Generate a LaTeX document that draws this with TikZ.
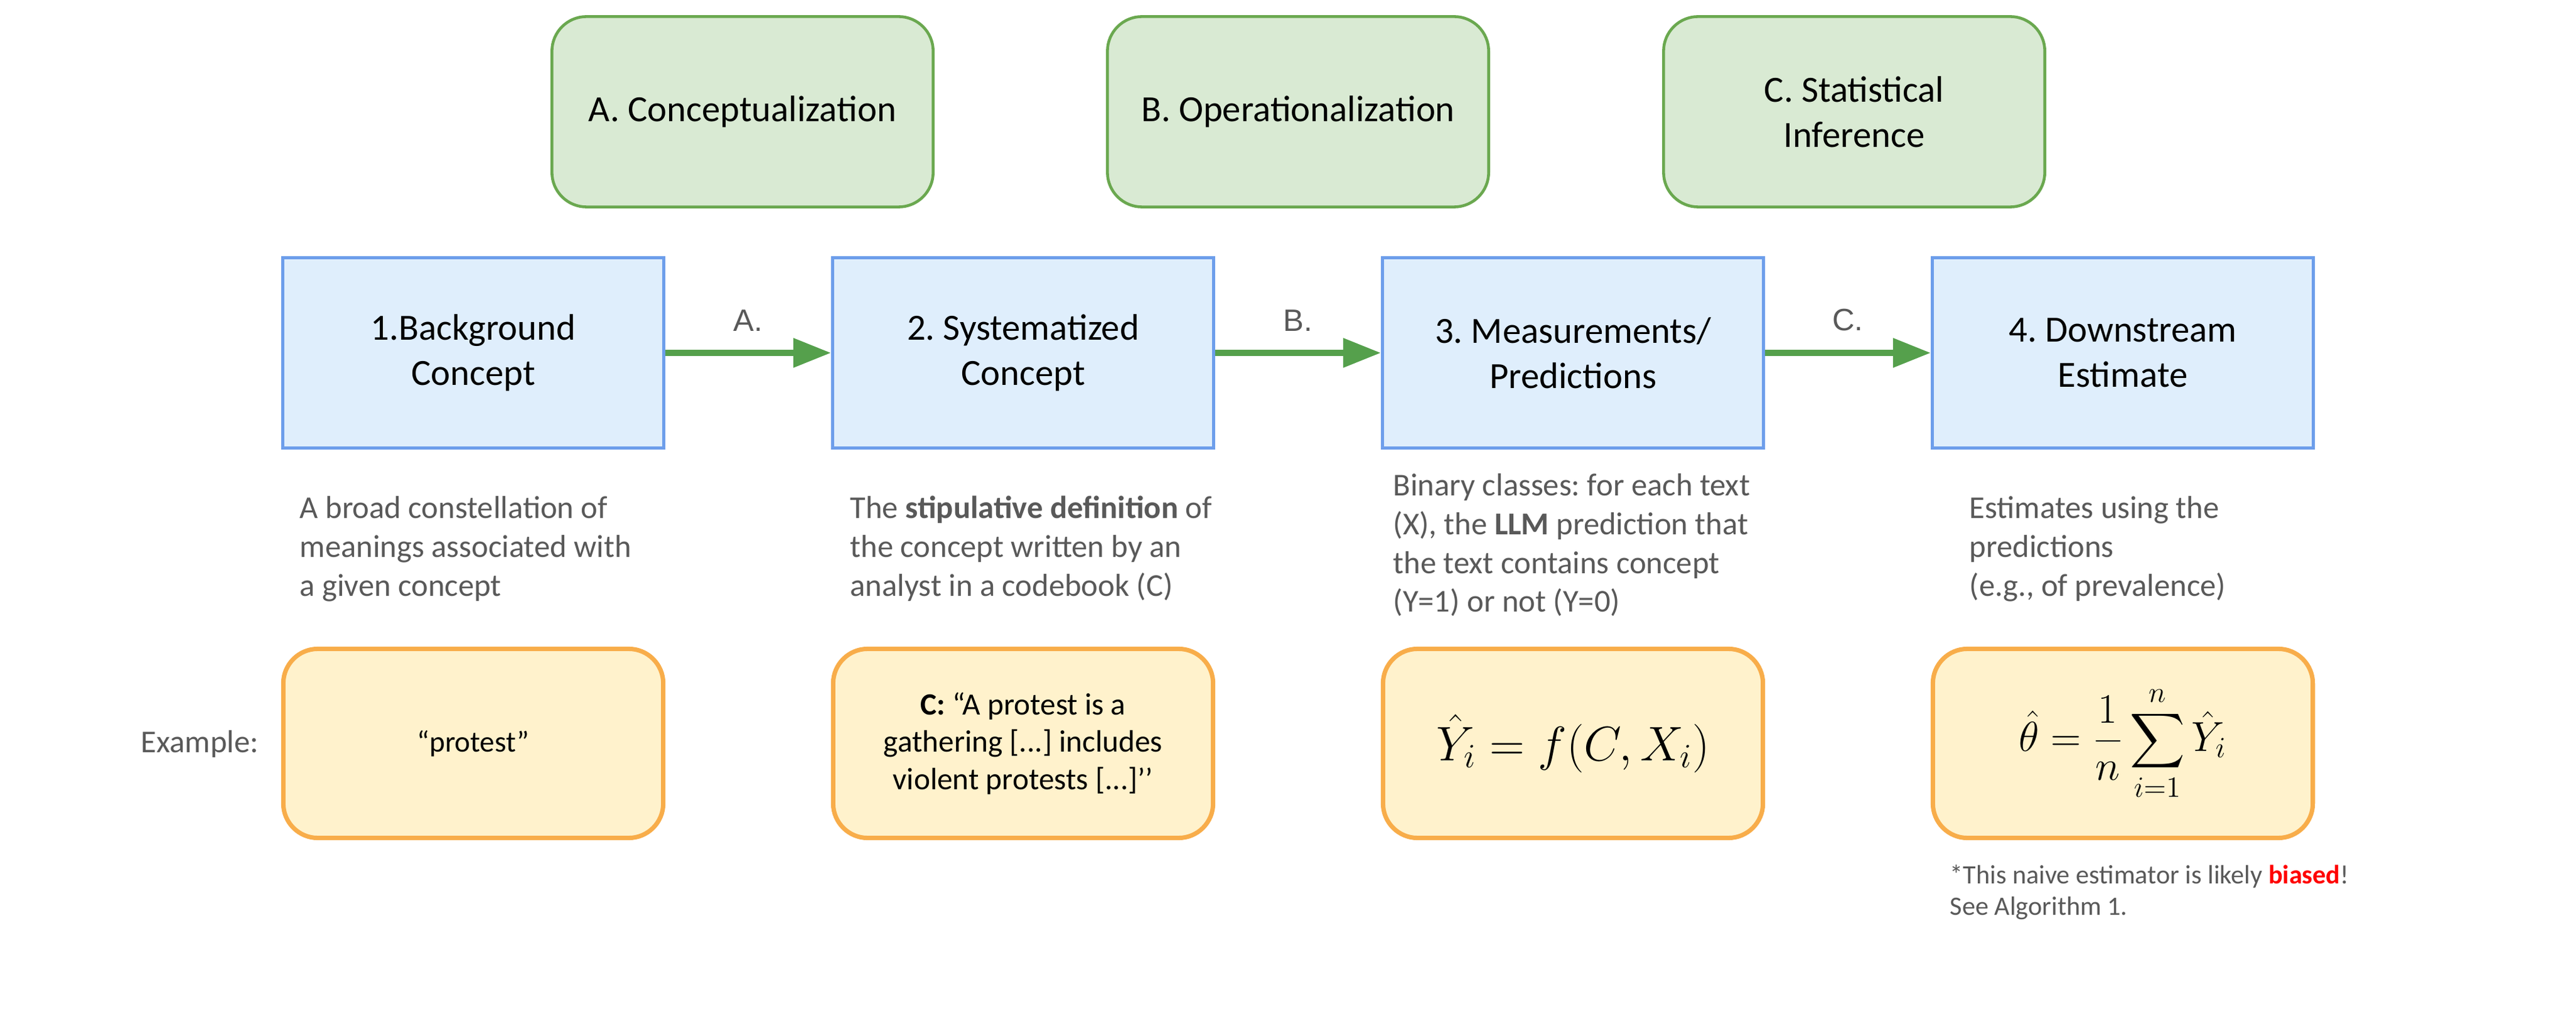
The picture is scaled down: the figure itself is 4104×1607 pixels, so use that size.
\RequirePackage{fix-cm}
\documentclass[tikz,border=0pt]{standalone}
\usepackage{amsmath}
\usepackage{exscale}
\usepackage{fontspec}
\setmainfont{Carlito}
\newfontfamily\labelfont{Liberation Sans}
\usetikzlibrary{arrows.meta,positioning}
\frenchspacing

\definecolor{greenfill}{HTML}{D9EAD3}
\definecolor{greenline}{HTML}{6AA84F}
\definecolor{bluefill}{HTML}{DFEEFC}
\definecolor{blueline}{HTML}{6D9EEB}
\definecolor{orangefill}{HTML}{FFF2CC}
\definecolor{orangeline}{HTML}{F8AD4A}
\definecolor{arrowgreen}{HTML}{55A04C}
\definecolor{textgray}{HTML}{595959}
\definecolor{biasred}{HTML}{FF0000}

\newcommand{\boxfont}{\fontsize{16.7}{20.5}\selectfont}
\newcommand{\descfont}{\fontsize{14.4}{17.6}\selectfont}
\newcommand{\notefont}{\fontsize{12}{14.2}\selectfont}

\begin{document}
\begin{tikzpicture}[x=0.01cm, y=-0.01cm,
    phase/.style={rectangle, rounded corners=0.55cm, draw=greenline, fill=greenfill, line width=1.3pt, minimum width=6.07cm, minimum height=3.03cm, align=center, font=\boxfont},
    stage/.style={rectangle, draw=blueline, fill=bluefill, line width=1.4pt, minimum width=6.07cm, minimum height=3.03cm, align=center, font=\boxfont},
    example/.style={rectangle, rounded corners=0.55cm, draw=orangeline, fill=orangefill, line width=2pt, minimum width=6.05cm, minimum height=3.01cm, align=center},
    desc/.style={anchor=west, align=left, inner sep=0pt, text=textgray, font=\descfont},
    flow/.style={draw=arrowgreen, line width=2.6pt, -{Triangle[length=0.6cm, width=0.45cm]}},
    steplabel/.style={above=0.3cm, inner sep=0pt, text=textgray, font=\labelfont\fontsize{14}{17}\selectfont}]
    \useasboundingbox (0,0) rectangle (4104,1607);

    % phases
    \node (Aconc) at (1183, 178) [phase] {A. Conceptualization};
    \node (Boper) at (2068, 178) [phase] {B. Operationalization};
    \node (Cstat) at (2954, 178) [phase] {C. Statistical\\Inference};

    % stages
    \node (BG) at (754, 562) [stage] {1.Background\\Concept};
    \node (SC) at (1630, 562) [stage] {2. Systematized\\Concept};
    \node (MP) at (2506, 562) [stage] {3. Measurements/\\Predictions};
    \node (DE) at (3382, 562) [stage] {4. Downstream\\Estimate};

    \draw[flow] (BG) -- node[steplabel] {A.} (SC);
    \draw[flow] (SC) -- node[steplabel] {B.} (MP);
    \draw[flow] (MP) -- node[steplabel] {C.} (DE);

    % descriptions
    \node (BGtext) at (477, 874) [desc] {A broad constellation of\\meanings associated with\\a given concept};
    \node (SCtext) at (1354, 874) [desc] {The \textbf{stipulative definition} of\\the concept written by an\\analyst in a codebook (C)};
    \node (MPtext) at (2219, 868) [desc] {Binary classes: for each text\\(X), the \textbf{LLM} prediction that\\the text contains concept\\(Y=1) or not (Y=0)};
    \node (DEtext) at (3137, 874) [desc] {Estimates using the\\predictions\\(e.g., of prevalence)};

    % examples
    \node (exlabel) at (224, 1198) [anchor=base west, inner sep=0pt, text=textgray, font=\descfont] {Example:};
    \node (BGex) at (754, 1184) [example, font=\fontsize{13.4}{17}\selectfont] {“protest”};
    \node (SCex) at (1630, 1184) [example, font=\fontsize{14}{17}\selectfont] {\textbf{C:} “A protest is a\\gathering [...] includes\\violent protests [...]’’};
    \node (MPex) at (2506, 1184) [example, font=\fontsize{22}{26}\selectfont] {$\hat{Y}_i = f(C, X_i)$};
    \node (DEex) at (3382, 1184) [example, font=\fontsize{19}{23}\selectfont] {$\displaystyle\hat{\theta} = \frac{1}{n}\sum_{i=1}^{n}\hat{Y}_i$};

    \node (note) at (3106, 1421) [desc, font=\notefont] {*This naive estimator is likely \textcolor{biasred}{\textbf{biased}}!\\See Algorithm 1.};
\end{tikzpicture}
\end{document}
